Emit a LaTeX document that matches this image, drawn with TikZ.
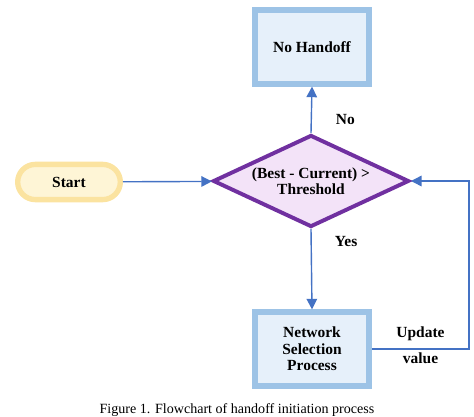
\documentclass[tikz,border=0pt]{standalone}
\usepackage{fontspec}
\setmainfont{Liberation Serif}
\usetikzlibrary{arrows.meta, shapes.geometric, shapes.misc, positioning}

\definecolor{boxline}{HTML}{9DC3E6}
\definecolor{boxfill}{HTML}{E6F0FA}
\definecolor{testline}{HTML}{7030A0}
\definecolor{testfill}{HTML}{F3E3F8}
\definecolor{startline}{HTML}{FBE3A0}
\definecolor{startfill}{HTML}{FEF5D6}
\definecolor{flow}{HTML}{4472C4}

\begin{document}
\begin{tikzpicture}[x=0.025cm,y=-0.025cm,>={Triangle[length=7.5pt,width=7.5pt]},
      every node/.style={font=\fontsize{11}{11.7}\selectfont\bfseries,text=black},
      process/.style={rectangle,draw=boxline,fill=boxfill,line width=4.3pt,
        minimum width=2.85cm,minimum height=1.83cm,align=center,inner sep=2pt},
      decision/.style={diamond,aspect=2.1,draw=testline,fill=testfill,line width=2.8pt,
        minimum width=4.9cm,minimum height=2.3cm,inner sep=0pt,align=center},
      terminal/.style={rounded rectangle,draw=startline,fill=startfill,line width=3.8pt,
        minimum width=2.8cm,minimum height=0.88cm},
      flowline/.style={color=flow,line width=1pt}]

      \useasboundingbox (0,0) rectangle (474,416);

      \node[terminal]  (start)  at (69,182)  {Start};
      \node[decision]  (test)   at (311,181) {(Best - Current) >\\Threshold};
      \node[process]   (nohand) at (312,47)  {No Handoff};
      \node[process]   (netsel) at (312,349) {Network\\Selection\\Process};

      \path[flowline,->] (start) edge (test)
      (test.north) edge node [right=4.8mm,pos=0.3] {No} (nohand.south)
      (test.south) edge node [right=4.6mm,pos=0.15] {Yes} (netsel.north);
      \draw[flowline,->] (netsel.east) -- node [align=center,yshift=2.5pt]
        {Update\\[7pt]value} ++(97,0) |- (test.east);

      \node[font=\fontsize{10}{12}\selectfont] (caption) at (237,413) [anchor=base]
        {Figure 1. Flowchart of handoff initiation process};
    \end{tikzpicture}
\end{document}
